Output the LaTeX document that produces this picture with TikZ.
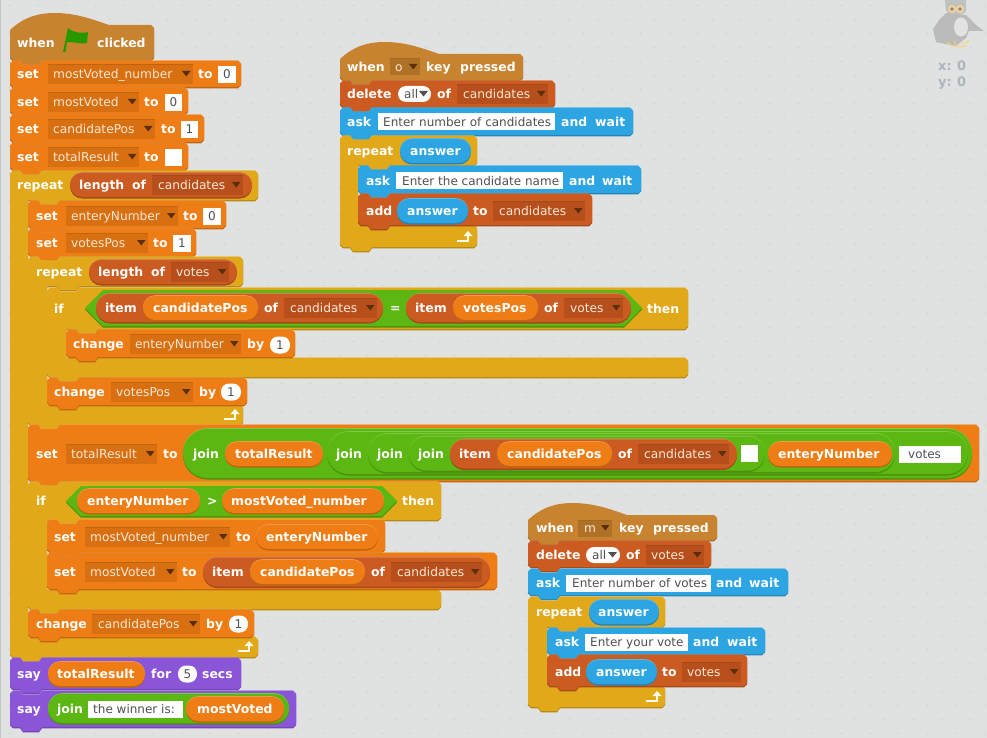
\documentclass[tikz,border=0pt]{standalone}
\usepackage{fontspec}
\setmainfont{DejaVu Sans}
\definecolor{bgc}{HTML}{E0E2E2}
\definecolor{dotc}{HTML}{D8DADA}
\definecolor{edgec}{HTML}{C4C6C6}
\definecolor{var}{HTML}{EE7D16}\definecolor{varS}{HTML}{BF640F}\definecolor{varD}{HTML}{D86F10}
\definecolor{hat}{HTML}{C88330}\definecolor{hatS}{HTML}{A06A26}\definecolor{hatD}{HTML}{AE7126}
\definecolor{lst}{HTML}{CC5B22}\definecolor{lstS}{HTML}{A3491B}\definecolor{lstD}{HTML}{B74F1C}
\definecolor{sen}{HTML}{2CA5E2}\definecolor{senS}{HTML}{2384B5}
\definecolor{loo}{HTML}{8A55D7}\definecolor{looS}{HTML}{6E44AC}
\definecolor{ctl}{HTML}{E1A91A}\definecolor{ctlS}{HTML}{B48715}
\definecolor{opr}{HTML}{5CB712}\definecolor{oprS}{HTML}{4A920E}
\definecolor{ddtxt}{HTML}{FBE8D6}\definecolor{tri}{HTML}{5C2E0A}
\definecolor{boxtxt}{HTML}{505050}
\definecolor{coordc}{HTML}{ABB5BD}
\newcounter{tn}
\tikzset{
  lbl/.style={anchor=base west,inner sep=0pt,text=white,font=\fontsize{12.4}{14}\selectfont\bfseries},
  ddl/.style={anchor=base west,inner sep=0pt,text=ddtxt,font=\fontsize{12.2}{14}\selectfont},
  inb/.style={anchor=base west,inner sep=0pt,text=boxtxt,font=\fontsize{12}{14}\selectfont},
  ctr/.style={anchor=base,inner sep=0pt,text=boxtxt,font=\fontsize{12}{14}\selectfont},
  coord/.style={anchor=base west,inner sep=0pt,text=coordc,font=\fontsize{13}{15}\selectfont\bfseries}
}
% stack block outline: x1 x2 y1 y2
\newcommand\StackOutline[4]{({#1+3},{#3}) -- ({#1+10},{#3}) -- ({#1+13},{#3+4}) -- ({#1+29},{#3+4}) -- ({#1+32},{#3}) -- ({#2-3},{#3}) -- ({#2},{#3+3}) -- ({#2},{#4-3}) -- ({#2-3},{#4}) -- ({#1+32},{#4}) -- ({#1+29},{#4+4}) -- ({#1+13},{#4+4}) -- ({#1+10},{#4}) -- ({#1+3},{#4}) -- ({#1},{#4-3}) -- ({#1},{#3+3}) -- cycle}
\newcommand\Stk[5]{\fill[#5!80!white,yshift=.7pt] \StackOutline{#1}{#2}{#3}{#4};\fill[#5S,yshift=-1.3pt] \StackOutline{#1}{#2}{#3}{#4};\fill[#5] \StackOutline{#1}{#2}{#3}{#4};}
% c block: x1 inner x2 y1 yh yb1 yb2
\newcommand\COutline[7]{({#1+3},{#4}) -- ({#1+10},{#4}) -- ({#1+13},{#4+4}) -- ({#1+29},{#4+4}) -- ({#1+32},{#4}) -- ({#3-3},{#4}) -- ({#3},{#4+3}) -- ({#3},{#5-3}) -- ({#3-3},{#5}) -- ({#2+32},{#5}) -- ({#2+29},{#5+4}) -- ({#2+13},{#5+4}) -- ({#2+10},{#5}) -- ({#2},{#5}) -- ({#2},{#6}) -- ({#2+10},{#6}) -- ({#2+13},{#6+4}) -- ({#2+29},{#6+4}) -- ({#2+32},{#6}) -- ({#3-3},{#6}) -- ({#3},{#6+3}) -- ({#3},{#7-3}) -- ({#3-3},{#7}) -- ({#1+32},{#7}) -- ({#1+29},{#7+4}) -- ({#1+13},{#7+4}) -- ({#1+10},{#7}) -- ({#1+3},{#7}) -- ({#1},{#7-3}) -- ({#1},{#4+3}) -- cycle}
\newcommand\CBlk[7]{\fill[ctl!80!white,yshift=.7pt] \COutline{#1}{#2}{#3}{#4}{#5}{#6}{#7};\fill[ctlS,yshift=-1.3pt] \COutline{#1}{#2}{#3}{#4}{#5}{#6}{#7};\fill[ctl] \COutline{#1}{#2}{#3}{#4}{#5}{#6}{#7};}
% hat: x1 x2 ytop y2
\newcommand\HatOutline[4]{({#1},{#3+17}) .. controls ({#1+14},{#3+4}) and ({#1+28},{#3}) .. ({#1+45},{#3}) .. controls ({#1+65},{#3}) and ({#1+82},{#3+6}) .. ({#1+99},{#3+12}) -- ({#2-3},{#3+12}) -- ({#2},{#3+15}) -- ({#2},{#4-3}) -- ({#2-3},{#4}) -- ({#1+32},{#4}) -- ({#1+29},{#4+4}) -- ({#1+13},{#4+4}) -- ({#1+10},{#4}) -- ({#1+3},{#4}) -- ({#1},{#4-3}) -- cycle}
\newcommand\Hat[4]{\fill[hatS,yshift=-1.3pt] \HatOutline{#1}{#2}{#3}{#4};\fill[hat] \HatOutline{#1}{#2}{#3}{#4};}
% pill: x1 x2 yc h colour
\newcommand\Pill[5]{\fill[#5!78!white,rounded corners={#4*0.5pt}] ({#1},{#3-#4/2-.8}) rectangle ({#2},{#3+#4/2});\fill[#5S,rounded corners={#4*0.5pt}] ({#1},{#3-#4/2+1.5}) rectangle ({#2},{#3+#4/2+1.5});\fill[#5,rounded corners={#4*0.5pt}] ({#1},{#3-#4/2}) rectangle ({#2},{#3+#4/2});}
% hexagon: x1 x2 yc h
\newcommand\HexOutline[4]{({#1},{#3}) -- ({#1+#4/2},{#3-#4/2}) -- ({#2-#4/2},{#3-#4/2}) -- ({#2},{#3}) -- ({#2-#4/2},{#3+#4/2}) -- ({#1+#4/2},{#3+#4/2}) -- cycle}
\newcommand\Hex[4]{\fill[oprS,yshift=-1.5pt] \HexOutline{#1}{#2}{#3}{#4};\fill[opr] \HexOutline{#1}{#2}{#3}{#4};}
% text: x yc text
\newcommand\Lb[3]{\stepcounter{tn}\node[lbl] (t\thetn) at ({#1},{#2+4.5}) {#3};}
\newcommand\In[3]{\stepcounter{tn}\node[inb] (t\thetn) at ({#1},{#2+4.2}) {#3};}
% dropdown: x1 x2 yc h colour textx text
\newcommand\Dd[7]{\fill[#5D] ({#1},{#3-#4/2}) rectangle ({#2},{#3+#4/2});\fill[#5S] ({#1},{#3-#4/2}) rectangle ({#2},{#3-#4/2+1});\fill[tri] ({#2-11},{#3-3}) -- ({#2-2.5},{#3-3}) -- ({#2-6.7},{#3+2.5}) -- cycle;\stepcounter{tn}\node[ddl] (t\thetn) at ({#6},{#3+4.2}) {#7};}
% white box: x1 x2 yc h textx text
\newcommand\Bx[6]{\fill[white] ({#1},{#3-#4/2}) rectangle ({#2},{#3+#4/2});\In{#5}{#3}{#6}}
% number box: x1 x2 yc text
\newcommand\Nb[4]{\fill[white] ({#1},{#3-8}) rectangle ({#2},{#3+9});\stepcounter{tn}\node[ctr] (t\thetn) at ({(#1+#2)/2},{#3+4.2}) {#4};}
% number pill: x1 x2 yc text
\newcommand\Np[4]{\fill[white,rounded corners=8pt] ({#1},{#3-8.5}) rectangle ({#2},{#3+8.5});\stepcounter{tn}\node[ctr] (t\thetn) at ({(#1+#2)/2},{#3+4.2}) {#4};}
% "all" pill: x1 x2 yc textx
\newcommand\AllP[4]{\fill[white,rounded corners=8pt] ({#1},{#3-8}) rectangle ({#2},{#3+8});\fill[boxtxt] ({#2-12},{#3-3}) -- ({#2-3},{#3-3}) -- ({#2-7.5},{#3+2.5}) -- cycle;\In{#4}{#3}{all}}
% loop arrow: x1 ybottom
\newcommand\LoopA[2]{\draw[white!92!yellow,line width=1.8pt] ({#1},{#2-1}) -- ({#1+11},{#2-1}) -- ({#1+11},{#2-7});\fill[white!92!yellow] ({#1+6.5},{#2-6}) -- ({#1+11},{#2-11}) -- ({#1+15.5},{#2-6}) -- cycle;}
% item reporter with candidatePos: offset x
\newcommand\ItemCand[2]{\Pill{#1}{#1+287}{#2}{29}{lst}\Lb{#1+9}{#2}{item}\Pill{#1+47}{#1+162}{#2}{24}{var}\Lb{#1+57}{#2}{candidatePos}\Lb{#1+168}{#2}{of}\Dd{#1+188}{#1+279}{#2}{20}{lst}{#1+194}{candidates}}
\begin{document}
\begin{tikzpicture}[x=1pt,y=-1pt]
\useasboundingbox (0,0) rectangle (987,738);
\fill[bgc] (0,0) rectangle (987,738);
\fill[edgec] (0,0) rectangle (1.2,738);
\foreach \i in {0,...,34}{\foreach \j in {0,...,52}{
  \pgfmathsetmacro\xx{9+28.7*\i+mod(\j,2)*14.35}\pgfmathsetmacro\yy{5.5+14*\j}
  \fill[dotc] (\xx-1.5,\yy-.35) rectangle (\xx+1.5,\yy+.35);
  \fill[dotc] (\xx-.35,\yy-1.5) rectangle (\xx+.35,\yy+1.5);
}}
% ---- sprite ----
\begin{scope}[opacity=.8]
\fill[gray!60] (933,29) -- (939,20) -- (946,13) -- (966,15) -- (976,25) -- (984,31) -- (969,31) -- (966,38) -- (956,46) -- (945,44) -- (936,42) -- cycle;
\fill[gray!55] (945,0) -- (966,0) -- (966,10) .. controls (965,17) and (948,17) .. (946,10) -- cycle;
\fill[gray!15] (961,27) ellipse [x radius=7,y radius=9.5];
\fill[yellow!30!orange!40] (952,9) circle (4);\fill[yellow!30!orange!40] (960,9) circle (4);
\fill[black!55] (952,9) circle (1.8);\fill[black!55] (960,9) circle (1.8);
\draw[yellow!40!orange!55,line width=1.2pt] (947,42) -- (953,47) (954,41) -- (957,47) (962,44) -- (970,41) (958,47) -- (967,46);
\end{scope}
\node[coord] (cx) at (938,70.5) {x:};
\node[coord] (cx0) at (957,70.5) {0};
\node[coord] (cy) at (938,86.5) {y:};
\node[coord] (cy0) at (957,86.5) {0};
% ---- script 1 ----
\Hat{10}{154}{13}{60}
\Lb{17}{43}{when}
\fill[green!50!black!80!lime] (63,52) -- (68,28) .. controls (72,32) and (80,34) .. (88,32) -- (87,43) .. controls (80,45) and (73,41) .. (67,42) -- (65.5,52) -- cycle;
\Lb{97}{43}{clicked}
\Stk{10}{241}{61}{87}{var}\Lb{17}{74}{set}\Dd{48}{193}{74}{20}{var}{53}{mostVoted\_number}\Lb{198}{74}{to}\Nb{218}{236}{74}{0}
\Stk{10}{188}{88}{114}{var}\Lb{17}{102}{set}\Dd{48}{139}{102}{20}{var}{53}{mostVoted}\Lb{144}{102}{to}\Nb{165}{182}{102}{0}
\Stk{10}{204}{115}{142}{var}\Lb{17}{129}{set}\Dd{48}{155}{129}{20}{var}{53}{candidatePos}\Lb{161}{129}{to}\Nb{181}{198}{129}{1}
\Stk{10}{188}{143}{170}{var}\Lb{17}{157}{set}\Dd{48}{139}{157}{20}{var}{53}{totalResult}\Lb{144}{157}{to}\Nb{165}{182}{157}{}
\CBlk{10}{28}{258}{171}{200}{637}{657}
\Lb{17}{185}{repeat}\Pill{70}{252}{185}{24}{lst}\Lb{79}{185}{length}\Lb{132}{185}{of}\Dd{152}{243}{185}{20}{lst}{158}{candidates}
\LoopA{238}{652}
\Stk{28}{226}{201}{228}{var}\Lb{36}{216}{set}\Dd{66}{178}{216}{20}{var}{71}{enteryNumber}\Lb{183}{216}{to}\Nb{203}{221}{216}{0}
\Stk{28}{196}{229}{256}{var}\Lb{36}{243}{set}\Dd{66}{148}{243}{20}{var}{71}{votesPos}\Lb{153}{243}{to}\Nb{173}{191}{243}{1}
\CBlk{28}{47}{243}{257}{286}{405}{425}
\Lb{36}{272}{repeat}\Pill{89}{237}{272}{24}{lst}\Lb{98}{272}{length}\Lb{151}{272}{of}\Dd{171}{229}{272}{20}{lst}{176}{votes}
\LoopA{224}{420}
\CBlk{47}{66}{688}{288}{329}{358}{377}
\Lb{54}{309}{if}\Hex{85}{642}{308}{36}
\Pill{96}{383}{308}{28}{lst}\Lb{105}{308}{item}\Pill{143}{258}{308}{24}{var}\Lb{153}{308}{candidatePos}\Lb{264}{308}{of}\Dd{284}{377}{308}{20}{lst}{290}{candidates}
\Lb{390}{308}{=}
\Pill{406}{631}{308}{28}{lst}\Lb{415}{308}{item}\Pill{453}{538}{308}{24}{var}\Lb{463}{308}{votesPos}\Lb{544}{308}{of}\Dd{564}{623}{308}{20}{lst}{570}{votes}
\Lb{647}{309}{then}
\Stk{66}{295}{330}{357}{var}\Lb{73}{344}{change}\Dd{130}{241}{344}{20}{var}{135}{enteryNumber}\Lb{247}{344}{by}\Np{270}{290}{345}{1}
\Stk{47}{247}{378}{405}{var}\Lb{54}{392}{change}\Dd{111}{193}{392}{20}{var}{116}{votesPos}\Lb{199}{392}{by}\Np{221}{241}{392}{1}
\Stk{28}{979}{425}{481}{var}\Lb{36}{454}{set}\Dd{66}{157}{454}{20}{var}{71}{totalResult}\Lb{163}{454}{to}
\Pill{183}{972}{453.5}{49}{opr}\Lb{193}{454}{join}\Pill{225}{323}{454}{24}{var}\Lb{235}{454}{totalResult}
\Pill{327}{968}{453}{42}{opr}\Lb{336}{454}{join}
\Pill{368}{895}{453}{38}{opr}\Lb{377}{454}{join}
\Pill{409}{765}{453.5}{34}{opr}\Lb{418}{454}{join}
\ItemCand{450}{454}
\Nb{741}{758}{453}{}
\Pill{768}{892}{454}{24}{var}\Lb{778}{454}{enteryNumber}
\Bx{899}{961}{454}{17}{908}{votes}
\CBlk{28}{47}{441}{482}{520}{590}{609}
\Lb{36}{501}{if}\Hex{66}{397}{501}{30}
\Pill{77}{200}{501}{24}{var}\Lb{87}{501}{enteryNumber}\Lb{207}{501}{>}\Pill{222}{384}{501}{24}{var}\Lb{231}{501}{mostVoted\_number}
\Lb{402}{501}{then}
\Stk{47}{385}{520}{552}{var}\Lb{54}{537}{set}\Dd{85}{230}{537}{20}{var}{90}{mostVoted\_number}\Lb{236}{537}{to}\Pill{256}{378}{537}{24}{var}\Lb{266}{537}{enteryNumber}
\Stk{47}{497}{553}{589}{var}\Lb{54}{572}{set}\Dd{85}{177}{572}{20}{var}{90}{mostVoted}\Lb{182}{572}{to}\ItemCand{203}{572}
\Stk{28}{254}{610}{637}{var}\Lb{36}{624}{change}\Dd{92}{200}{624}{20}{var}{98}{candidatePos}\Lb{206}{624}{by}\Np{229}{248}{624}{1}
\Stk{10}{241}{658}{689}{loo}\Lb{17}{674}{say}\Pill{48}{145}{674}{24}{var}\Lb{57}{674}{totalResult}\Lb{151}{674}{for}\Np{178}{197}{674}{5}\Lb{202}{674}{secs}
\Stk{10}{296}{691}{727}{loo}\Lb{17}{709}{say}\Pill{48}{289}{708.5}{29}{opr}\Lb{57}{709}{join}\Bx{88}{183}{709}{17}{93}{the winner is:}\Pill{186}{284}{709}{24}{var}\Lb{197}{709}{mostVoted}
% ---- script 2 ----
\Hat{340}{523}{42}{80}\Lb{347}{67}{when}\Dd{390}{420}{67}{17}{hat}{395}{o}\Lb{426}{67}{key}\Lb{460}{67}{pressed}
\Stk{340}{555}{81}{107}{lst}\Lb{347}{94}{delete}\AllP{398}{431}{94}{404}\Lb{437}{94}{of}\Dd{457}{548}{94}{20}{lst}{463}{candidates}
\Stk{340}{633}{108}{135}{sen}\Lb{347}{122}{ask}\Bx{378}{555}{122}{17}{383}{Enter number of candidates}\Lb{561}{122}{and}\Lb{595}{122}{wait}
\CBlk{340}{358}{477}{136}{165}{225}{247}\Lb{347}{151}{repeat}\Pill{400}{471}{151}{24}{sen}\Lb{410}{151}{answer}\LoopA{457}{242}
\Stk{358}{641}{166}{193}{sen}\Lb{366}{181}{ask}\Bx{396}{563}{181}{17}{402}{Enter the candidate name}\Lb{569}{181}{and}\Lb{602}{181}{wait}
\Stk{358}{592}{194}{225}{lst}\Lb{366}{211}{add}\Pill{397}{468}{211}{24}{sen}\Lb{407}{211}{answer}\Lb{473}{211}{to}\Dd{493}{585}{211}{20}{lst}{499}{candidates}
% ---- script 3 ----
\Hat{528}{717}{503}{540}\Lb{536}{528}{when}\Dd{578}{612}{528}{17}{hat}{584}{m}\Lb{619}{528}{key}\Lb{653}{528}{pressed}
\Stk{528}{711}{541}{567}{lst}\Lb{536}{555}{delete}\AllP{586}{620}{555}{592}\Lb{626}{555}{of}\Dd{646}{704}{555}{20}{lst}{651}{votes}
\Stk{528}{788}{569}{595}{sen}\Lb{536}{583}{ask}\Bx{566}{711}{583}{17}{572}{Enter number of votes}\Lb{716}{583}{and}\Lb{749}{583}{wait}
\CBlk{528}{547}{665}{597}{627}{686}{707}\Lb{536}{612}{repeat}\Pill{589}{659}{612}{24}{sen}\Lb{598}{612}{answer}\LoopA{646}{702}
\Stk{547}{765}{628}{654}{sen}\Lb{555}{642}{ask}\Bx{585}{688}{642}{17}{590}{Enter your vote}\Lb{693}{642}{and}\Lb{727}{642}{wait}
\Stk{547}{747}{655}{686}{lst}\Lb{555}{672}{add}\Pill{586}{657}{672}{24}{sen}\Lb{596}{672}{answer}\Lb{662}{672}{to}\Dd{682}{741}{672}{20}{lst}{687}{votes}
\end{tikzpicture}
\end{document}
